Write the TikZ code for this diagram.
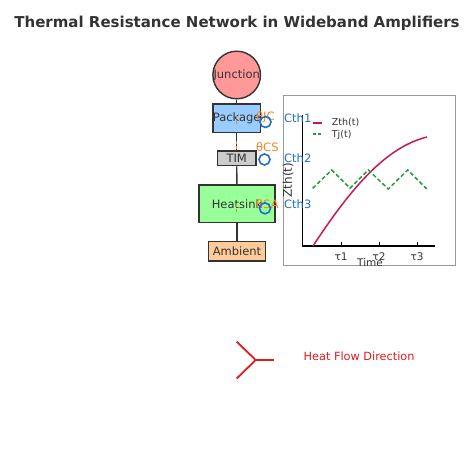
\documentclass[tikz,border=0pt]{standalone}
\usepackage{fontspec}
\setmainfont{DejaVu Sans}
\newcommand\fsz[1]{\fontsize{#1}{#1}\selectfont}
\definecolor{txt}{HTML}{333333}
\definecolor{edge}{HTML}{333333}
\definecolor{junc}{HTML}{FF9999}
\definecolor{pkg}{HTML}{99CCFF}
\definecolor{tim}{HTML}{CCCCCC}
\definecolor{hs}{HTML}{99FF99}
\definecolor{amb}{HTML}{FFCC99}
\definecolor{oran}{HTML}{F5831F}
\definecolor{cblue}{HTML}{1F6FC5}
\definecolor{zth}{HTML}{C8175D}
\definecolor{tj}{HTML}{239B3C}
\definecolor{framegray}{HTML}{999999}
\definecolor{hred}{HTML}{E31A1C}
\tikzset{
  blk/.style={draw=edge, line width=1.4pt, inner sep=0pt, text=txt, font=\fsz{11.5}},
  link/.style={draw=edge, line width=1.4pt},
  theta/.style={text=oran, font=\fsz{11.5}, anchor=west, inner sep=0pt},
  cth/.style={text=cblue, font=\fsz{11.5}, anchor=west, inner sep=0pt},
  capnode/.style={draw=cblue, line width=1.6pt, circle, minimum size=11pt, inner sep=0pt},
  hf/.style={draw=oran, line width=1.5pt, dash pattern=on 3pt off 2pt},
  lbl/.style={text=txt, inner sep=0pt},
}
\begin{document}
\begin{tikzpicture}[x=1pt,y=-1pt]
\useasboundingbox (0,0) rectangle (474,474);
% title
\node[lbl, font=\fsz{15}\bfseries] (title) at (237,23) {Thermal Resistance Network in Wideband Amplifiers};
% network nodes
\node[blk, circle, fill=junc, minimum size=37pt] (junction) at (236.7,75) {Junction};
\node[blk, fill=pkg, minimum width=38.7pt, minimum height=28.7pt] (package) at (236.7,118.4) {Package};
\node[blk, fill=tim, minimum width=38.7pt, minimum height=14.7pt] (tim) at (236.7,158.4) {TIM};
\node[blk, fill=hs, minimum width=76pt, minimum height=37.7pt] (heatsink) at (237,203.8) {Heatsink};
\node[blk, fill=amb, minimum width=57.4pt, minimum height=19.3pt] (ambient) at (237,251.3) {Ambient};
\draw[link] (junction) -- (package);
\draw[link] (package) -- (tim);
\draw[link] (tim) -- (heatsink);
\draw[link] (heatsink) -- (ambient);
% heat flow marks
\coordinate (hfa1) at (236.7,116); \coordinate (hfa2) at (236.7,124.5);
\coordinate (hfb1) at (236.7,140.5); \coordinate (hfb2) at (236.7,148.5);
\coordinate (hfc1) at (236.7,204); \coordinate (hfc2) at (236.7,212.5);
\draw[hf] (hfa1) -- (hfa2);
\draw[hf] (hfb1) -- (hfb2);
\draw[hf] (hfc1) -- (hfc2);
% theta labels
\node[theta] (tjc) at (256,117) {θJC};
\node[theta] (tcs) at (256,147) {θCS};
\node[theta] (tsa) at (256,204) {θSA};
% capacitances
\node[capnode] (c1) at (265.5,122) {};
\node[capnode] (c2) at (264.5,159.5) {};
\node[capnode] (c3) at (265,208.3) {};
% chart frame
\node[draw=framegray, line width=1pt, minimum width=171.7pt, minimum height=170pt, inner sep=0pt] (chart) at (369.2,180) {};
\coordinate (ytop) at (302.7,115);
\coordinate (orig) at (302.7,246);
\coordinate (xend) at (435,246);
\draw[black, line width=1.5pt] (ytop) -- (orig) -- (xend);
\foreach \x/\n in {341/1,379/2,417/3}{
  \coordinate (tk\n) at (\x,246);
  \draw[black, line width=1pt] (tk\n) -- ++(0,-4.5);
  \node[lbl, font=\fsz{10.5}] (tau\n) at (\x,256.7) {τ\n};
}
\node[lbl, font=\fsz{10.5}] (timelbl) at (370,262.5) {Time};
\node[lbl, font=\fsz{12}, rotate=90] (zthlbl) at (288,180) {Zth(t)};
% curves
\draw[zth, line width=1.5pt] (313,246) .. controls (353,185) and (387,147) .. (427,137);
\draw[tj, line width=1.5pt, dash pattern=on 4pt off 2.5pt] (312.7,188.3) -- (331.7,170) -- (350,188.3) -- (368.3,170) -- (388.3,189) -- (407.7,170) -- (426.7,189);
% legend
\coordinate (lz1) at (313,123.3); \coordinate (lz2) at (322,123.3);
\coordinate (lt1) at (313,134); \coordinate (lt2) at (322,134);
\draw[zth, line width=1.8pt] (lz1) -- (lz2);
\draw[tj, line width=1.5pt, dash pattern=on 3pt off 2pt] (lt1) -- (lt2);
\node[lbl, font=\fsz{9.5}, anchor=west] (lgz) at (331.7,122.3) {Zth(t)};
\node[lbl, font=\fsz{9.5}, anchor=west] (lgt) at (331.7,134.5) {Tj(t)};
% Cth labels
\node[cth] (cth1) at (284,118.3) {Cth1};
\node[cth] (cth2) at (284,158) {Cth2};
\node[cth] (cth3) at (284,204.5) {Cth3};
% heat flow direction
\coordinate (hfA) at (236.7,341.7);
\coordinate (hfB) at (236.7,378.5);
\coordinate (hfM) at (255.7,360);
\coordinate (hfE) at (274.3,360);
\draw[hred, line width=1.8pt] (hfA) -- (hfM) -- (hfB);
\draw[hred, line width=1.8pt] (hfM) -- (hfE);
\node[text=hred, font=\fsz{11.3}, anchor=west, inner sep=0pt] (hflbl) at (303.5,356) {Heat Flow Direction};
\end{tikzpicture}
\end{document}
